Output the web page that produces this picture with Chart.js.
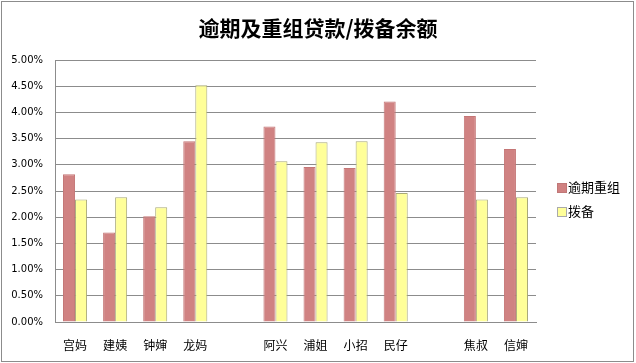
<!DOCTYPE html>
<html>
<head>
<meta charset="utf-8">
<script src="https://cdn.jsdelivr.net/npm/chart.js@4"></script>
<style>
  body { margin: 0; background: #fff; }
  #wrap { position: relative; width: 636px; height: 363px; }
  #frame { position: absolute; left: 1px; top: 1px; width: 631px; height: 359px; border: 1px solid #8c8c8c; pointer-events: none; }
  #title { position: absolute; left: 0; width: 636px; top: 12px; text-align: center;
           font: bold 21px "Noto Sans CJK SC", sans-serif; color: #000; }
  .lg { position: absolute; left: 557px; font: 13px "Noto Sans CJK SC", sans-serif; color: #000; line-height: 16px; }
  .lg span { display: inline-block; width: 8px; height: 8px; border: 1px solid #aaa; margin-right: 1px; vertical-align: -1px; }
</style>
</head>
<body>
<div id="wrap">
  <canvas id="chart-0" width="636" height="363"></canvas>
  <div id="title">逾期及重组贷款/拨备余额</div>
  <div class="lg" style="top:179px"><span style="background:#d08282;border-color:#c07777"></span>逾期重组</div>
  <div class="lg" style="top:203px"><span style="background:#ffff99"></span>拨备</div>
  <div id="frame"></div>
</div>
<script>
// gaps between groups are empty categories
var names = ["宫妈","建姨","钟婶","龙妈","","阿兴","浦姐","小招","民仔","","焦叔","信婶"];
var overdue = [2.82, 1.71, 2.02, 3.45, null, 3.73, 2.96, 2.94, 4.21, null, 3.93, 3.30];
var provision = [2.34, 2.38, 2.19, 4.52, null, 3.07, 3.43, 3.45, 2.46, null, 2.34, 2.38];
var yTicks = [0, 0.5, 1, 1.5, 2, 2.5, 3, 3.5, 4, 4.5, 5];

new Chart(document.getElementById("chart-0"), {
  type: "bar",
  data: {
    labels: names,
    datasets: [
      { label: "逾期重组", data: overdue, backgroundColor: "#d08282", borderColor: "#c47676", borderWidth: 1 },
      { label: "拨备", data: provision, backgroundColor: "#ffff99", borderColor: "#a8a878", borderWidth: 1 }
    ]
  },
  options: {
    responsive: false,
    animation: false,
    layout: { padding: { left: 2, right: 100, top: 60, bottom: 0 } },
    datasets: { bar: { categoryPercentage: 0.6, barPercentage: 1 } },
    plugins: { legend: { display: false }, title: { display: false }, tooltip: { enabled: false } },
    scales: {
      x: {
        grid: { display: false },
        border: { color: "#8c8c8c" },
        ticks: { color: "#000", font: { family: "Noto Sans CJK SC", size: 12 }, padding: 8, maxRotation: 0, autoSkip: false },
        afterFit: function (s) { s.height = 41; }
      },
      y: {
        min: 0, max: 5,
        afterBuildTicks: function (s) { s.ticks = yTicks.map(function (v) { return { value: v }; }); },
        grid: { color: "#8c8c8c", drawTicks: false },
        border: { color: "#8c8c8c" },
        ticks: {
          color: "#000", padding: 12, font: { family: "DejaVu Sans", size: 10 },
          callback: function (v) { return v.toFixed(2) + "%"; }
        },
        afterFit: function (s) { s.width = 53; }
      }
    }
  }
});
</script>
</body>
</html>
